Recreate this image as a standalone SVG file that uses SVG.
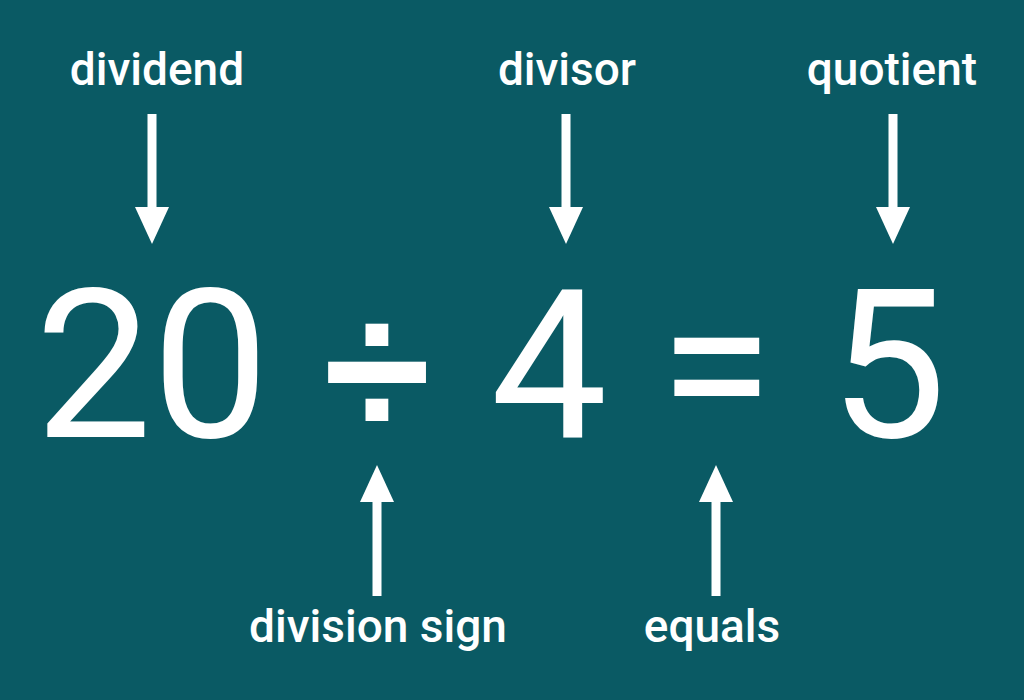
<svg xmlns="http://www.w3.org/2000/svg" width="1024" height="700" viewBox="0 0 1024 700">
<style>
.lbl{font-family:Roboto,"Liberation Sans",sans-serif;font-weight:500;font-size:46px;fill:#fff;text-anchor:middle}
.big{font-family:Roboto,"Liberation Sans",sans-serif;font-weight:400;font-size:208px;fill:#fff;text-anchor:middle}
.op{font-family:"Liberation Sans",Arial,sans-serif;font-weight:700;font-size:195px;fill:#fff;text-anchor:middle}
.shaft{stroke:#fff;stroke-width:9}
.head{fill:#fff}
</style>
<rect width="1024" height="700" fill="#0a5a64"/>
<g id="eq-20"><text class="big" x="152" y="437">20</text></g>
<g id="eq-div"><text class="op" x="377" y="437">÷</text></g>
<g id="eq-4"><text class="big" x="549" y="437">4</text></g>
<g id="eq-equals"><text class="big" x="716" y="437">=</text></g>
<g id="eq-5"><text class="big" x="888" y="437">5</text></g>
<g id="label-dividend"><text class="lbl" x="157" y="85">dividend</text></g>
<g id="label-divisor"><text class="lbl" x="567" y="85">divisor</text></g>
<g id="label-quotient"><text class="lbl" x="892" y="85">quotient</text></g>
<g id="label-division-sign"><text class="lbl" x="378" y="642">division sign</text></g>
<g id="label-equals"><text class="lbl" x="712" y="642">equals</text></g>
<g id="connectors">
<line class="shaft" x1="152" y1="114" x2="152" y2="210"/><polygon class="head" points="135,207 169,207 152,244"/>
<line class="shaft" x1="566" y1="114" x2="566" y2="210"/><polygon class="head" points="549,207 583,207 566,244"/>
<line class="shaft" x1="893" y1="114" x2="893" y2="210"/><polygon class="head" points="876,207 910,207 893,244"/>
<line class="shaft" x1="377" y1="596" x2="377" y2="500"/><polygon class="head" points="360,502 394,502 377,465"/>
<line class="shaft" x1="716" y1="596" x2="716" y2="500"/><polygon class="head" points="699,502 733,502 716,465"/>
</g>
</svg>
